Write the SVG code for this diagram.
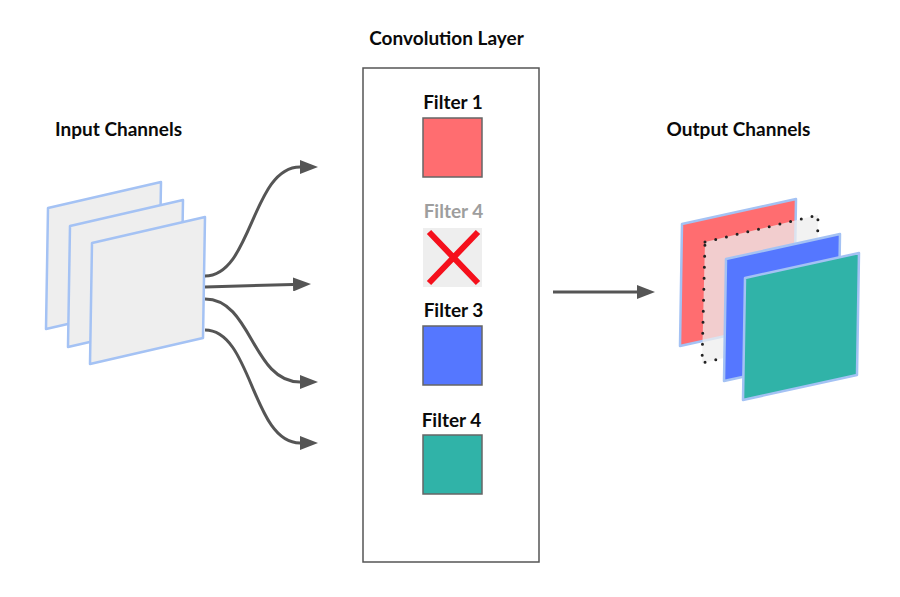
<svg xmlns="http://www.w3.org/2000/svg" width="900" height="597" viewBox="0 0 900 597">
<style>
  text { font-family: Lato, "Liberation Sans", sans-serif; font-weight: bold; font-size: 19px; fill: #0a0a0a; text-anchor: middle; }
  .dim { fill: #9e9e9e; }
  .inplane { fill: #eeeeee; stroke: #a4c2f4; stroke-width: 2.5; stroke-linejoin: round; }
  .outplane { stroke: #a4c2f4; stroke-width: 2.5; stroke-linejoin: round; }
  .filt { stroke: #666; stroke-width: 1.5; }
  .conn { fill: none; stroke: #555; stroke-width: 3; }
</style>
<defs>
  <marker id="ah" markerUnits="userSpaceOnUse" markerWidth="18" markerHeight="14" refX="0" refY="7" orient="auto">
    <path d="M0,0 L18,7 L0,14 Z" fill="#555"/>
  </marker>
  <path id="ip" d="M0,0 L113,-26 L111,95 L-2,121 Z"/>
  <path id="op" d="M0,0 L114,-25 L112,97 L-2,122 Z"/>
</defs>
<rect width="900" height="597" fill="#ffffff"/>

<g id="input-channels">
  <text x="118.5" y="136">Input Channels</text>
  <use href="#ip" class="inplane" x="48" y="208"/>
  <use href="#ip" class="inplane" x="70" y="226"/>
  <use href="#ip" class="inplane" x="92" y="243"/>
</g>

<g id="connectors">
  <path class="conn" d="M205,276 C252,276 252,167 300,167" marker-end="url(#ah)"/>
  <path class="conn" d="M205,287 L293,284.5" marker-end="url(#ah)"/>
  <path class="conn" d="M205,299 C252,299 252,382 300,382" marker-end="url(#ah)"/>
  <path class="conn" d="M205,330 C252,330 252,443 300,443" marker-end="url(#ah)"/>
  <path class="conn" d="M553,292 L637,292" marker-end="url(#ah)"/>
</g>

<g id="convolution-layer">
  <text x="446.5" y="45">Convolution Layer</text>
  <rect x="363" y="68" width="176" height="494" fill="none" stroke="#555" stroke-width="1.5"/>
</g>

<g id="filter-1">
  <text x="453" y="109">Filter 1</text>
  <rect class="filt" x="423" y="118" width="59" height="59" fill="#ff6d70"/>
</g>

<g id="filter-4-removed">
  <text class="dim" x="453.5" y="218">Filter 4</text>
  <rect x="423" y="228" width="59" height="59" fill="#eeeeee"/>
  <path d="M429,232 L478,283 M478,232 L429,283" stroke="#f5101c" stroke-width="6"/>
</g>

<g id="filter-3">
  <text x="453.5" y="317">Filter 3</text>
  <rect class="filt" x="423" y="326" width="59" height="59" fill="#5577ff"/>
</g>

<g id="filter-4">
  <text x="451.5" y="427">Filter 4</text>
  <rect class="filt" x="423" y="435" width="59" height="59" fill="#30b3a8"/>
</g>

<g id="output-channels">
  <text x="738.5" y="136">Output Channels</text>
  <use href="#op" class="outplane" x="682" y="224" fill="#ff6d70"/>
  <path d="M705,242 L818,215 L816,337 L702,363 Z" fill="#eeeeee" fill-opacity="0.75" stroke="#222" stroke-width="3" stroke-linecap="round" stroke-dasharray="0 11"/>
  <use href="#op" class="outplane" x="726" y="259" fill="#5577ff"/>
  <use href="#op" class="outplane" x="745" y="278" fill="#30b3a8"/>
</g>
</svg>
